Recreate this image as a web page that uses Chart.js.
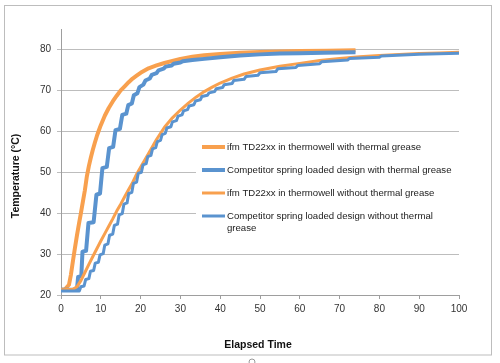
<!DOCTYPE html>
<html>
<head>
<meta charset="utf-8">
<script src="https://cdn.jsdelivr.net/npm/chart.js@4.4.0/dist/chart.umd.min.js"></script>
<style>
  html, body { margin: 0; padding: 0; background: #fff; }
  #wrap { position: relative; width: 500px; height: 363px; }
</style>
</head>
<body>
<div id="wrap"><canvas id="grafik"></canvas></div>
<script>
// judul seri (urutan legenda)
const namaSeri = [
  "ifm TD22xx in thermowell with thermal grease",
  "Competitor spring loaded design with thermal grease",
  "ifm TD22xx in thermowell without thermal grease",
  ["Competitor spring loaded design without thermal", "grease"]
];

// [waktu, suhu]
const ifmGrease = [
  [0,21.3],[1,21.4],[2,22.5],[2.5,25],[3,28.3],[3.5,31.5],[4,34.5],[4.5,37.3],[5,40],
  [5.5,42.8],[6,45.6],[6.5,49],[7,51.5],[7.5,53.6],[8,55.5],[8.5,57.2],[9,58.8],
  [9.5,60.2],[10,61.5],[11,63.8],[12,65.7],[13,67.3],[14,68.7],[15,70],[16,71],
  [17,72],[18,72.9],[19,73.6],[20,74.3],[22,75.4],[24,76.1],[26,76.7],[28,77.2],
  [30,77.7],[33,78.2],[36,78.6],[40,78.9],[45,79.2],[50,79.4],[55,79.5],[60,79.6],
  [67,79.7],[74,79.8]
];

const kompetitorGrease = [
  [0,21.3],[4.0,21.3],[4.3,24.4],[5.1,24.6],[5.4,30.6],[6.3,30.8],[6.9,37.6],[8.2,37.8],
  [8.9,44.5],[9.8,44.8],[10.4,51],[11.5,51.3],[12.1,55.9],[13.1,56.2],[13.7,60.3],
  [14.8,60.6],[15.4,64],[16.4,64.3],[16.9,66.4],[17.8,66.8],[18.3,68.8],[19.2,69.3],
  [19.7,70.8],[20.7,71.4],[21.2,72.4],[22.3,72.9],[22.8,73.8],[24,74.2],[24.5,74.9],
  [25.8,75.3],[26.3,75.8],[27.8,76.1],[28.3,76.5],[30,76.8],[30.6,77.1],[33,77.4],
  [36,77.7],[40,78.1],[45,78.5],[50,78.8],[55,79],[60,79.1],[66,79.2],[74,79.3]
];

const ifmTanpaGrease = [
  [0,21.3],[3,21.4],[4,22],[5,23.5],[6,25.5],[7,27.5],[8,29.4],[9,31.3],[10,33.2],
  [11,35],[12,36.8],[13,38.6],[14,40.5],[15,42.2],[16,44],[17,45.8],[18,47.5],
  [19,49.5],[20,51.2],[22,54.6],[24,58],[26,61],[28,63.3],[30,65.2],[32,66.9],
  [34,68.4],[36,69.7],[38,70.8],[40,71.8],[43,73],[46,74],[50,75],[55,75.9],
  [60,76.6],[65,77.3],[70,77.8],[75,78.2],[80,78.5],[85,78.8],[90,79],[95,79.15],[100,79.3]
];

const kompetitorTanpaGrease = [
  [0,21],[4.6,21],[5,22],[5.8,22.2],[6.2,23.8],[7,24],[7.4,25.8],[8.2,26],[8.6,27.8],
  [9.4,28],[9.8,29.8],[10.6,30.1],[11,32.2],[11.8,32.5],[12.2,34.6],[13,34.9],
  [13.4,37],[14.2,37.3],[14.6,39.6],[15.4,39.9],[15.8,42.2],[16.6,42.5],[17,44.8],
  [17.8,45.1],[18.2,47.3],[19,47.6],[19.4,49.7],[20.2,50],[20.6,51.8],[21.4,52.1],
  [21.8,53.8],[22.6,54.1],[23,55.7],[23.8,56],[24.2,57.5],[25,57.8],[25.4,59.2],
  [26.2,59.5],[26.6,60.8],[27.6,61.1],[28,62.3],[29,62.6],[29.4,63.7],[30.4,64],
  [30.8,65],[31.8,65.3],[32.2,66.2],[33.4,66.5],[33.8,67.4],[35,67.7],[35.4,68.5],
  [36.8,68.8],[37.2,69.4],[38.6,69.7],[39,70.4],[40.6,70.7],[41,71.4],[43,71.7],
  [43.4,72.4],[46,72.7],[46.5,73.4],[49.5,73.7],[50,74.3],[54,74.6],[54.5,75.3],
  [59,75.6],[59.5,76.1],[65,76.5],[65.5,77],[72,77.4],[72.5,77.8],[80,78.1],
  [80.5,78.4],[90,78.8],[100,79.1]
];

const tickY = [20, 30, 40, 50, 60, 70, 80];

const oranye = "#F8A04E";
const biru = "#5A93CF";

function keTitik(arr) {
  return arr.map(p => ({ x: p[0], y: p[1] }));
}

const garisSeri = [
  { data: ifmGrease, warna: oranye, tebal: 4, order: 4 },
  { data: kompetitorGrease, warna: biru, tebal: 4, order: 3 },
  { data: ifmTanpaGrease, warna: oranye, tebal: 3, order: 2 },
  { data: kompetitorTanpaGrease, warna: biru, tebal: 3, order: 1 }
];

// legenda di dalam area plot + judul sumbu + bingkai
const pluginHiasan = {
  id: "hiasan",
  beforeDatasetsDraw(chart) {
    const ctx = chart.ctx;
    ctx.save();
    ctx.fillStyle = "#fff";
    ctx.fillRect(196, 138, 264, 98);
    ctx.restore();
  },
  afterDatasetsDraw(chart) {
    const ctx = chart.ctx;
    ctx.save();
    const barisY = [147, 170, 193, 216];
    ctx.font = "9.6px 'Liberation Sans', Arial, sans-serif";
    ctx.textBaseline = "middle";
    garisSeri.forEach((s, i) => {
      ctx.strokeStyle = s.warna;
      ctx.lineWidth = s.tebal;
      ctx.beginPath();
      ctx.moveTo(202, barisY[i]);
      ctx.lineTo(225, barisY[i]);
      ctx.stroke();
      ctx.fillStyle = "#222";
      const teks = Array.isArray(namaSeri[i]) ? namaSeri[i] : [namaSeri[i]];
      teks.forEach((t, j) => ctx.fillText(t, 227, barisY[i] + j * 12));
    });
    ctx.restore();
  },
  afterDraw(chart) {
    const ctx = chart.ctx;
    ctx.save();
    // judul sumbu
    ctx.fillStyle = "#111";
    ctx.font = "bold 10.5px 'Liberation Sans', Arial, sans-serif";
    ctx.textAlign = "center";
    ctx.textBaseline = "middle";
    ctx.fillText("Elapsed Time", 258, 345);
    ctx.translate(16, 176);
    ctx.rotate(-Math.PI / 2);
    ctx.fillText("Temperature (°C)", 0, 0);
    ctx.restore();
    // bingkai luar
    ctx.save();
    ctx.strokeStyle = "#bdbdbd";
    ctx.lineWidth = 1;
    ctx.strokeRect(4.5, 5.5, 487, 349.5);
    ctx.beginPath();
    ctx.arc(252, 362, 3, 0, Math.PI * 2);
    ctx.strokeStyle = "#999";
    ctx.stroke();
    ctx.restore();
  }
};

const ctx = document.getElementById("grafik").getContext("2d");
new Chart(ctx, {
  type: "line",
  data: {
    datasets: garisSeri.map((s, i) => ({
      label: Array.isArray(namaSeri[i]) ? namaSeri[i].join(" ") : namaSeri[i],
      data: keTitik(s.data),
      borderColor: s.warna,
      backgroundColor: s.warna,
      borderWidth: s.tebal,
      pointRadius: 0,
      tension: 0,
      fill: false,
      order: s.order,
      borderJoinStyle: "round"
    }))
  },
  options: {
    responsive: true,
    maintainAspectRatio: false,
    animation: false,
    layout: { padding: { top: 29, right: 41, left: 0, bottom: 0 } },
    plugins: {
      legend: { display: false },
      tooltip: { enabled: false }
    },
    scales: {
      x: {
        type: "linear",
        min: 0,
        max: 100,
        ticks: {
          stepSize: 10,
          color: "#333",
          padding: 4,
          font: { family: "'Liberation Sans', Arial, sans-serif", size: 10 }
        },
        grid: { drawOnChartArea: false, drawTicks: true, tickLength: 4, color: "#9e9e9e" },
        border: { color: "#9e9e9e" },
        afterFit(scale) { scale.height = 68; }
      },
      y: {
        type: "linear",
        min: 20,
        max: 85,
        afterBuildTicks(scale) {
          scale.ticks = tickY.map(v => ({ value: v }));
        },
        ticks: {
          color: "#333",
          padding: 6,
          font: { family: "'Liberation Sans', Arial, sans-serif", size: 10 }
        },
        grid: { color: "#bdbdbd", tickLength: 4 },
        border: { color: "#9e9e9e" },
        afterFit(scale) { scale.width = 61; }
      }
    }
  },
  plugins: [pluginHiasan]
});
</script>
</body>
</html>
